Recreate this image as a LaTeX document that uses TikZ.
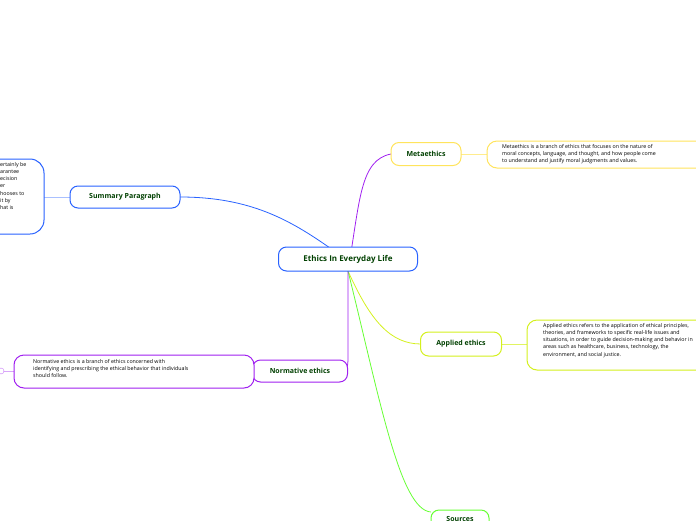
\documentclass[tikz,border=0pt]{standalone}
\usepackage{fontspec}
\setmainfont{Open Sans}
\begin{document}
\begin{tikzpicture}[x=1pt,y=-1pt,
 topic/.style={draw=#1,line width=1pt,rounded corners=8pt,fill=white,font=\fontsize{7}{8}\selectfont\bfseries,text=green!25!black,inner sep=0pt},
 box/.style={draw=#1,line width=1pt,rounded corners=10pt,fill=white},
 dtext/.style={font=\fontsize{5.3}{7.2}\selectfont,align=left,inner sep=0pt,anchor=north west},
 conn/.style={draw=#1,line width=0.8pt}]
\useasboundingbox (0,0) rectangle (696,520);
\clip (0,0) rectangle (696,520);
\definecolor{cblue}{HTML}{2962FF}
\definecolor{cyel}{HTML}{FFE45C}
\definecolor{clime}{HTML}{D4F01E}
\definecolor{cpur}{HTML}{A020F0}
\definecolor{cgrn}{HTML}{66FF33}
\coordinate (hub) at (348,271);
\coordinate (hubl) at (330,248);
% connectors
\draw[conn=cpur] (hub) .. controls (360,200) and (360,160) .. (391,154);
\draw[conn=clime] (hub) .. controls (370,320) and (390,344) .. (421,344);
\draw[conn=cgrn] (hub) .. controls (380,400) and (400,510) .. (431,512);
\draw[conn=cpur] (hub) -- (348,355) .. controls (348,365) and (348,371) .. (341,371);
\draw[conn=cblue] (hubl) .. controls (290,220) and (250,197) .. (180,197);
\draw[conn=cyel!70] (461,154) -- (487,154);
\draw[conn=clime!70] (502,344) -- (527,344);
\draw[conn=cpur!40] (227,371) -- (253,371);
\draw[conn=cpur!40] (14,371) -- (2,371);
\draw[conn=cblue!40] (44,197) -- (70,197);
% nodes
\node[topic=cblue,minimum width=139pt,minimum height=24pt,font=\fontsize{8}{9}\selectfont\bfseries] (c) at (348,259) {Ethics In Everyday Life};
\node[topic=cyel,minimum width=70pt,minimum height=23pt] (m) at (426,154) {Metaethics};
\node[topic=clime,minimum width=81pt,minimum height=24pt] (a) at (461,344) {Applied ethics};
\node[topic=cpur,minimum width=95pt,minimum height=22pt] (n) at (300,371) {Normative ethics};
\node[topic=cblue,minimum width=110pt,minimum height=22pt] (s) at (125,197) {Summary Paragraph};
\draw[draw=cgrn,line width=1pt,rounded corners=8pt,fill=white] (431,530) -- (431,510) -- (489,510) -- (489,530);
\node[font=\fontsize{7}{8}\selectfont\bfseries,text=green!25!black,inner sep=0pt] (so) at (460,519) {Sources};
% description boxes
\draw[box=cyel] (487,141) rectangle (720,168);
\node[dtext] (md) at (502,144) {Metaethics is a branch of ethics that focuses on the nature of\\moral concepts, language, and thought, and how people come\\to understand and justify moral judgments and values.};
\draw[box=clime] (527,320) rectangle (720,370);
\node[dtext] (ad) at (543,323) {Applied ethics refers to the application of ethical principles,\\theories, and frameworks to specific real-life issues and\\situations, in order to guide decision-making and behavior in\\areas such as healthcare, business, technology, the\\environment, and social justice.};
\draw[box=cpur] (14,355) rectangle (254,388);
\node[dtext] (nd) at (33,359) {Normative ethics is a branch of ethics concerned with\\identifying and prescribing the ethical behavior that individuals\\should follow.};
\draw[box=cblue,rounded corners=14pt] (-80,159) rectangle (44,234);
\node[dtext] (sd) at (0,162) {ertainly be\\arantee\\ecision\\er\\hooses to\\it by\\hat is};
\draw[draw=cpur!60,fill=white] (1,371) circle (3pt);
\end{tikzpicture}
\end{document}
